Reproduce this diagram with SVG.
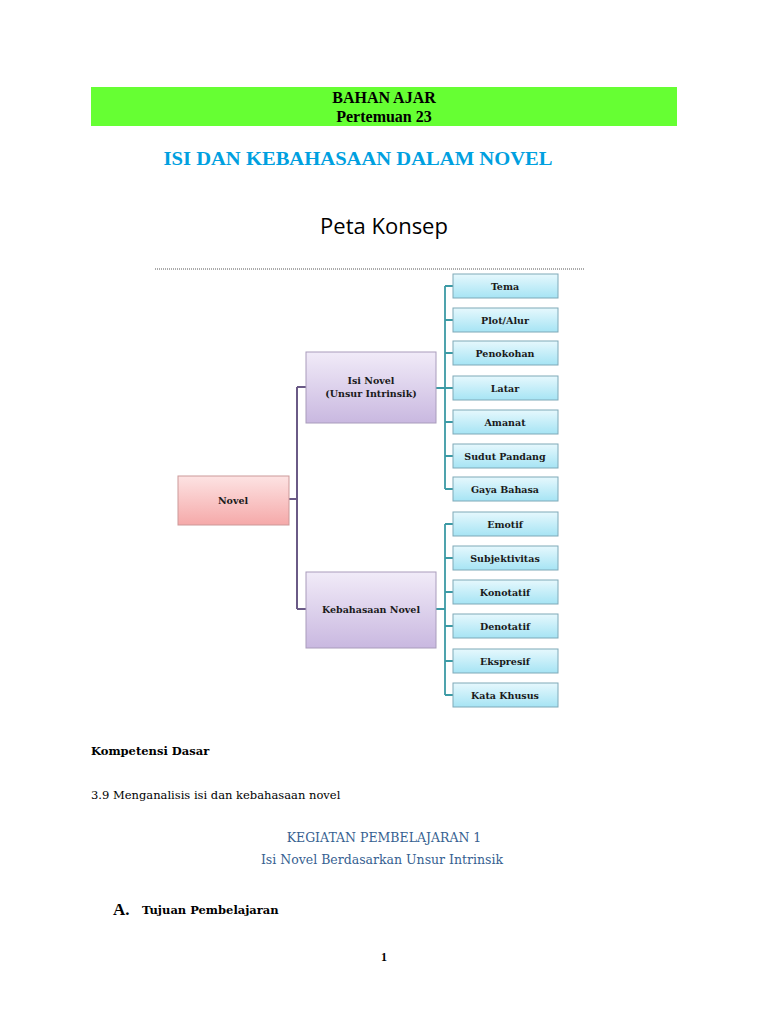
<svg xmlns="http://www.w3.org/2000/svg" width="768" height="1024" viewBox="0 0 768 1024">
<style>
.t{font-family:"Liberation Serif",serif;font-weight:bold;fill:#000}
.c{font-family:"DejaVu Serif",serif;font-weight:bold;font-size:9.5px;fill:#1a1a1a;text-anchor:middle}
.leaf{fill:url(#gb);stroke:#7fa9b8;stroke-width:1}
.mid{fill:url(#gp);stroke:#a99cbc;stroke-width:1}
.ln{fill:none;stroke:#3c9aa5;stroke-width:1.8}
.lp{fill:none;stroke:#6a5a86;stroke-width:2}
.k{font-family:"DejaVu Serif",serif;font-weight:bold;font-size:11.5px}
.b{font-family:"DejaVu Serif",serif;fill:#365f91;font-size:12.5px;text-anchor:middle}
</style>
<defs>
<linearGradient id="gb" x1="0" y1="0" x2="0" y2="1"><stop offset="0" stop-color="#e6f8fd"/><stop offset="1" stop-color="#a6e4f4"/></linearGradient>
<linearGradient id="gp" x1="0" y1="0" x2="0" y2="1"><stop offset="0" stop-color="#f1ebf8"/><stop offset="1" stop-color="#c9b8e0"/></linearGradient>
<linearGradient id="gr" x1="0" y1="0" x2="0" y2="1"><stop offset="0" stop-color="#fde3e3"/><stop offset="1" stop-color="#f5a9a9"/></linearGradient>
</defs>
<rect width="768" height="1024" fill="#fff"/>
<rect x="91" y="87" width="586" height="39" fill="#66ff33"/>
<text class="t" x="384" y="103" font-size="16" text-anchor="middle">BAHAN AJAR</text>
<text class="t" x="384" y="122" font-size="16" text-anchor="middle">Pertemuan 23</text>
<text class="t" x="358" y="165" font-size="19" style="fill:#00a0e0" text-anchor="middle" textLength="389" lengthAdjust="spacingAndGlyphs">ISI DAN KEBAHASAAN DALAM NOVEL</text>
<text x="384" y="234" font-family="Open Sans,sans-serif" font-size="22" text-anchor="middle" fill="#000">Peta Konsep</text>
<line x1="155" y1="269" x2="585" y2="269" stroke="#555" stroke-width="1" stroke-dasharray="1,1"/>
<g id="connectors">
<path class="lp" d="M289 499H297M297 387V609M297 387H306M297 609H306"/>
<path class="ln" d="M436 388H445M445 286V489M445 286H453M445 320H453M445 353H453M445 388H453M445 422H453M445 456H453M445 489H453"/>
<path class="ln" d="M436 609H445M445 524V695M445 524H453M445 558H453M445 592H453M445 626H453M445 661H453M445 695H453"/>
</g>
<g id="novel"><rect x="178" y="476" width="111" height="49" fill="url(#gr)" stroke="#c99" /><text class="c" x="233" y="504">Novel</text></g>
<g id="isi"><rect class="mid" x="306" y="352" width="130" height="71"/><text class="c" x="371" y="384">Isi Novel</text><text class="c" x="371" y="397">(Unsur Intrinsik)</text></g>
<g id="keb"><rect class="mid" x="306" y="572" width="130" height="76"/><text class="c" x="371" y="613">Kebahasaan  Novel</text></g>
<g id="tema"><rect class="leaf" x="453" y="274" width="105" height="24"/><text class="c" x="505" y="290">Tema</text></g>
<g id="plot"><rect class="leaf" x="453" y="308" width="105" height="24"/><text class="c" x="505" y="324">Plot/Alur</text></g>
<g id="penokohan"><rect class="leaf" x="453" y="341" width="105" height="24"/><text class="c" x="505" y="357">Penokohan</text></g>
<g id="latar"><rect class="leaf" x="453" y="376" width="105" height="24"/><text class="c" x="505" y="392">Latar</text></g>
<g id="amanat"><rect class="leaf" x="453" y="410" width="105" height="24"/><text class="c" x="505" y="426">Amanat</text></g>
<g id="sudut"><rect class="leaf" x="453" y="444" width="105" height="24"/><text class="c" x="505" y="460">Sudut Pandang</text></g>
<g id="gaya"><rect class="leaf" x="453" y="477" width="105" height="24"/><text class="c" x="505" y="493">Gaya Bahasa</text></g>
<g id="emotif"><rect class="leaf" x="453" y="512" width="105" height="24"/><text class="c" x="505" y="528">Emotif</text></g>
<g id="subj"><rect class="leaf" x="453" y="546" width="105" height="24"/><text class="c" x="505" y="562">Subjektivitas</text></g>
<g id="kono"><rect class="leaf" x="453" y="580" width="105" height="24"/><text class="c" x="505" y="596">Konotatif</text></g>
<g id="deno"><rect class="leaf" x="453" y="614" width="105" height="24"/><text class="c" x="505" y="630">Denotatif</text></g>
<g id="eks"><rect class="leaf" x="453" y="649" width="105" height="24"/><text class="c" x="505" y="665">Ekspresif</text></g>
<g id="kata"><rect class="leaf" x="453" y="683" width="105" height="24"/><text class="c" x="505" y="699">Kata Khusus</text></g>
<text class="k" x="91" y="755">Kompetensi Dasar</text>
<text x="91" y="799" font-family="DejaVu Serif,serif" font-size="11.5">3.9  Menganalisis isi dan kebahasaan novel</text>
<text class="b" x="384" y="842">KEGIATAN PEMBELAJARAN 1</text>
<text class="b" x="382" y="864">Isi Novel Berdasarkan Unsur Intrinsik</text>
<text x="113" y="915" font-family="Liberation Serif,serif" font-weight="bold" font-size="17">A.</text>
<text class="k" x="142" y="914">Tujuan Pembelajaran</text>
<text x="384" y="961" font-family="Liberation Serif,serif" font-weight="bold" font-size="12" text-anchor="middle">1</text>
</svg>
